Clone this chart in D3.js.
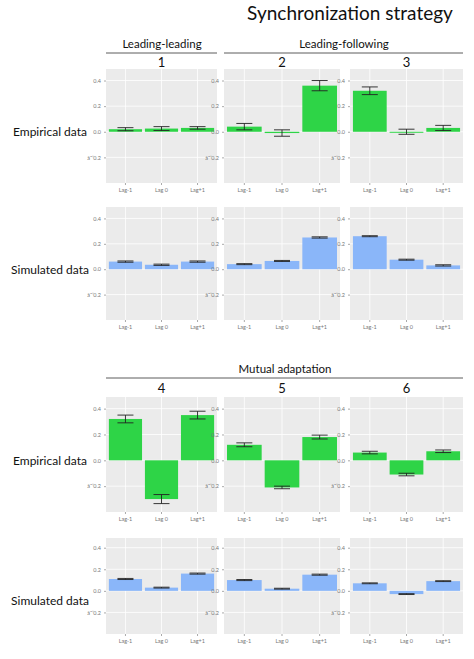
<!DOCTYPE html><html><head><script src="https://cdn.jsdelivr.net/npm/d3@7"></script>
<style>body{margin:0;background:#fff}</style></head><body><svg id="c" width="474" height="659"></svg><script>
const lags=["Lag-1","Lag 0","Lag+1"];
const ticks=[-0.2,0,0.2,0.4];
const emp=[[0.02,0.025,0.03],[0.04,-0.01,0.36],[0.32,0.0,0.03],[0.32,-0.30,0.35],[0.12,-0.21,0.18],[0.06,-0.11,0.07]];
const empErr=[[0.012,0.015,0.01],[0.025,0.025,0.04],[0.03,0.02,0.02],[0.03,0.035,0.03],[0.015,0.01,0.015],[0.01,0.01,0.01]];
const sim=[[0.06,0.035,0.06],[0.04,0.065,0.25],[0.26,0.075,0.03],[0.11,0.03,0.16],[0.10,0.02,0.15],[0.07,-0.03,0.09]];
const simErr=[[0.005,0.005,0.005],[0.004,0.004,0.005],[0.004,0.004,0.005],[0.005,0.004,0.005],[0.005,0.004,0.005],[0.004,0.004,0.004]];
const svg=d3.select("#c");
const F="Lato, 'Open Sans', sans-serif";
const cols=[[106,217],[224,340],[350,463]];
const rows=[[69,183],[207,320],[397,512],[538,634]];
const fmt=d=>d3.format(".1f")(d).replace("\u2212","-");
function panel(ci,ri,vals,errs,color){
 const [x0,x1]=cols[ci],[y0,y1]=rows[ri];
 const x=d3.scaleBand().domain(lags).range([x0,x1]).padding(0.08);
 const y=d3.scaleLinear().domain([-0.4,0.49]).range([y1,y0]);
 const g=svg.append("g");
 g.append("rect").attr("x",x0).attr("y",y0).attr("width",x1-x0).attr("height",y1-y0).attr("fill","#ebebeb");
 g.selectAll(".gy").data(ticks).join("line").attr("x1",x0).attr("x2",x1).attr("y1",d=>y(d)).attr("y2",d=>y(d)).attr("stroke","#fff").attr("stroke-width",0.8);
 g.selectAll(".gx").data(lags).join("line").attr("x1",d=>x(d)+x.bandwidth()/2).attr("x2",d=>x(d)+x.bandwidth()/2).attr("y1",y0).attr("y2",y1).attr("stroke","#fff").attr("stroke-width",0.8);
 g.selectAll(".b").data(vals).join("rect").attr("x",(d,i)=>x(lags[i])).attr("width",x.bandwidth())
  .attr("y",d=>y(Math.max(0,d))).attr("height",d=>Math.max(1,Math.abs(y(d)-y(0)))).attr("fill",color);
 vals.forEach((v,i)=>{const cx=x(lags[i])+x.bandwidth()/2,e=errs[i],w=8;
  g.append("path").attr("d",`M${cx-w},${y(v+e)}H${cx+w}M${cx},${y(v+e)}V${y(v-e)}M${cx-w},${y(v-e)}H${cx+w}`).attr("stroke","#222").attr("stroke-width",0.9).attr("fill","none");});
 const ax=g.append("g").attr("transform",`translate(${x0},0)`).call(d3.axisLeft(y).tickValues(ticks).tickSize(2).tickFormat(fmt));
 ax.select(".domain").remove();ax.selectAll("line").attr("stroke","#aaa");
 ax.selectAll("text").attr("font-size",5.5).attr("fill","#777").attr("font-family",F);
 const bx=g.append("g").attr("transform",`translate(0,${y1})`).call(d3.axisBottom(x).tickSize(2));
 bx.select(".domain").remove();bx.selectAll("line").attr("stroke","#aaa");
 bx.selectAll("text").attr("font-size",5.5).attr("fill","#777").attr("font-family",F);
}
const green="#2ed447",blue="#8ab6f9";
[0,1,2].forEach(c=>{panel(c,0,emp[c],empErr[c],green);panel(c,1,sim[c],simErr[c],blue);
 panel(c,2,emp[c+3],empErr[c+3],green);panel(c,3,sim[c+3],simErr[c+3],blue);});
function txt(x,y,s,sz,anchor="middle"){svg.append("text").attr("x",x).attr("y",y).attr("text-anchor",anchor).attr("font-size",sz).attr("font-family",F).attr("fill","#111").text(s);}
txt(350,20,"Synchronization strategy",19);
txt(162,48,"Leading-leading",11.5);txt(344,48,"Leading-following",11.5);
txt(285,373,"Mutual adaptation",11.5);
[[106,217,53],[224,463,53],[106,463,378]].forEach(([a,b,yy])=>svg.append("line").attr("x1",a).attr("x2",b).attr("y1",yy).attr("y2",yy).attr("stroke","#333").attr("stroke-width",0.8));
const cx=cols.map(c=>(c[0]+c[1])/2);
["1","2","3"].forEach((s,i)=>txt(cx[i],67,s,13));
["4","5","6"].forEach((s,i)=>txt(cx[i],393,s,13));
txt(50,136,"Empirical data",12);txt(50,274,"Simulated data",12);
txt(50,465,"Empirical data",12);txt(50,605,"Simulated data",12);
</script></body></html>
